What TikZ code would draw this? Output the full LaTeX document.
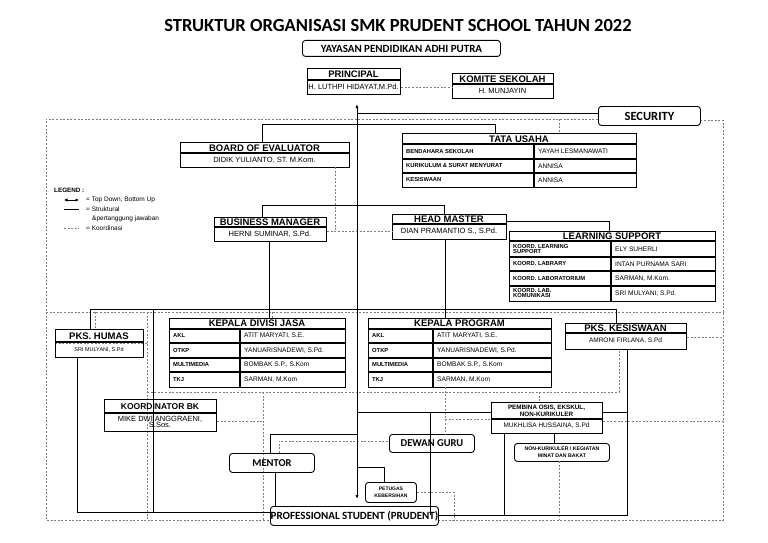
\documentclass[tikz,border=0pt]{standalone}
\usepackage{fontspec}
\setmainfont{Liberation Sans}
\newfontfamily\carfont{Carlito}
\usetikzlibrary{arrows.meta}
\begin{document}
\begin{tikzpicture}[x=1pt,y=-1pt,
  hd/.style={font=\bfseries\fontsize{9.5}{10}\selectfont,inner sep=0,align=center},
  bd/.style={font=\fontsize{7.5}{8}\selectfont,inner sep=0},
  cl/.style={font=\bfseries\fontsize{5.8}{6}\selectfont,inner sep=0,anchor=west,align=left},
  cr/.style={font=\fontsize{6.6}{7}\selectfont,inner sep=0,anchor=west},
  bx/.style={line width=1.1pt},
  ln/.style={line width=0.9pt},
  dsh/.style={line width=0.8pt,gray,dash pattern=on 2pt off 1.6pt},
  rbox/.style={draw,line width=0.9pt,rounded corners=3pt,inner sep=0,anchor=north west},
  lgt/.style={font=\fontsize{6.5}{7}\selectfont,anchor=west,inner sep=0},
  cb/.style={font=\carfont\bfseries\fontsize{10.5}{11}\selectfont}]
\useasboundingbox (0,0) rectangle (768,543);
\fill[white] (0,0) rectangle (768,543);
\newcommand\obox[8]{%
 \pgfmathsetmacro\ow{#4-#2}\pgfmathsetmacro\oh{#6-#3}%
 \node[draw,bx,inner sep=0,minimum width=\ow pt,minimum height=\oh pt,anchor=north west] (#1) at (#2,#3) {};
 \draw[bx] (#2,#5) -- (#4,#5);
 \node[hd] at ({(#2+#4)/2},{(#3+#5)/2+0.5}) {#7};
 \node[bd,align=center] at ({(#2+#4)/2},{(#5+#6)/2}) {#8};}
\newcommand\trow[7]{%
 \draw[bx] (#1,#5) -- (#3,#5);
 \node[cl] at ({#1+4},{(#4+#5)/2}) {#6};
 \node[cr] at ({#2+4},{(#4+#5)/2}) {#7};}
% title
\node[font=\carfont\bfseries\fontsize{18.5}{20}\selectfont] (title) at (398,26) {STRUKTUR ORGANISASI SMK PRUDENT SCHOOL TAHUN 2022};
\node[rbox,minimum width=198pt,minimum height=16pt,font=\carfont\bfseries\fontsize{11}{11}\selectfont] (yay) at (302,40) {YAYASAN PENDIDIKAN ADHI PUTRA};
% big dashed frames
\draw[dsh] (598,119) -- (46,119) -- (46,520) -- (270,520);
\draw[dsh] (438,520) -- (723,520) -- (723,120) -- (700,120);
\draw[dsh] (46,312) -- (723,312);
\draw[dsh] (147,312) -- (147,520);
\draw[dsh] (147,392) -- (619,392) -- (619,349);
\draw[dsh] (95,312) -- (95,330);
\draw[dsh] (55,343) -- (147,343);
\draw[dsh] (263,392) -- (263,520);
\draw[dsh] (272,312) -- (272,318);
% boxes
\obox{pr}{307}{68}{400}{80}{94}{PRINCIPAL}{H. LUTHPI HIDAYAT,M.Pd.}
\obox{ks}{452}{73}{553}{84}{98}{KOMITE SEKOLAH}{H. MUNJAYIN}
\node[rbox,minimum width=102pt,minimum height=19pt,font=\carfont\bfseries\fontsize{12.5}{13}\selectfont] (sec) at (598,106) {SECURITY};
\obox{be}{180}{142}{349}{153}{167}{BOARD OF EVALUATOR}{DIDIK YULIANTO, ST. M.Kom.}
% tata usaha
\node[draw,bx,inner sep=0,minimum width=234pt,minimum height=54pt,anchor=north west] (tu) at (402,133) {};
\draw[bx] (402,144) -- (636,144);
\node[hd] at (519,139) {TATA USAHA};
\draw[bx] (534,144) -- (534,187);
\trow{402}{534}{636}{144}{159}{BENDAHARA SEKOLAH}{YAYAH LESMANAWATI}
\trow{402}{534}{636}{159}{173}{KURIKULUM \& SURAT MENYURAT}{ANNISA}
\node[cl] at (406,180) {KESISWAAN};
\node[cr] at (538,180) {ANNISA};
\obox{bm}{214}{217}{326}{227}{241}{BUSINESS MANAGER}{HERNI SUMINAR, S.Pd.}
\obox{hm}{392}{214}{506}{224}{239}{HEAD MASTER}{DIAN PRAMANTIO S., S.Pd.}
% learning support
\node[draw,bx,inner sep=0,minimum width=206pt,minimum height=70pt,anchor=north west] (ls) at (509,231) {};
\draw[bx] (509,241) -- (715,241);
\node[hd] at (612,236.5) {LEARNING SUPPORT};
\draw[bx] (611,241) -- (611,301);
\trow{509}{611}{715}{241}{257}{KOORD. LEARNING\\[-1pt]SUPPORT}{ELY SUHERLI}
\trow{509}{611}{715}{257}{271}{KOORD. LABRARY}{INTAN PURNAMA SARI}
\trow{509}{611}{715}{271}{286}{KOORD. LABORATORIUM}{SARMAN, M.Kom.}
\node[cl] at (513,293.5) {KOORD. LAB.\\[-1pt]KOMUNIKASI};
\node[cr] at (615,293.5) {SRI MULYANI, S.Pd.};
% legend
\node[font=\bfseries\fontsize{6.3}{7}\selectfont,anchor=west,inner sep=0] (lg) at (54,190) {LEGEND :};
\draw[ln,{Latex[length=3.5pt,width=3.5pt]}-{Latex[length=3.5pt,width=3.5pt]}] (64,200) -- (79,200);
\node[lgt] (l1) at (86,200) {= Top Down, Bottom Up};
\draw[ln] (64,209) -- (79,209);
\node[lgt] (l2) at (86,209) {= Struktural};
\node[lgt] (l3) at (92,219) {\&pertanggung jawaban};
\draw[dsh] (64,228) -- (79,228);
\node[lgt] (l4) at (86,228) {= Koordinasi};
% middle row
\obox{ph}{55}{329}{143}{342}{357}{PKS. HUMAS}{\fontsize{5.5}{6}\selectfont SRI MULYANI, S.Pd}
% kepala divisi jasa
\node[draw,bx,inner sep=0,minimum width=176pt,minimum height=69pt,anchor=north west] (kdj) at (169,318) {};
\draw[bx] (169,329) -- (345,329);
\node[hd] at (257,323.5) {KEPALA DIVISI JASA};
\draw[bx] (240,329) -- (240,387);
\trow{169}{240}{345}{329}{343}{AKL}{ATIT MARYATI, S.E.}
\trow{169}{240}{345}{343}{358}{OTKP}{YANUARISNADEWI, S.Pd.}
\trow{169}{240}{345}{358}{372}{MULTIMEDIA}{BOMBAK S.P., S.Kom}
\node[cl] at (173,379.5) {TKJ};
\node[cr] at (244,379.5) {SARMAN, M.Kom};
% kepala program
\node[draw,bx,inner sep=0,minimum width=183pt,minimum height=69pt,anchor=north west] (kp) at (368,318) {};
\draw[bx] (368,329) -- (551,329);
\node[hd] at (459.5,323.5) {KEPALA PROGRAM};
\draw[bx] (433,329) -- (433,387);
\trow{368}{433}{551}{329}{343}{AKL}{ATIT MARYATI, S.E.}
\trow{368}{433}{551}{343}{358}{OTKP}{YANUARISNADEWI, S.Pd.}
\trow{368}{433}{551}{358}{372}{MULTIMEDIA}{BOMBAK S.P., S.Kom}
\node[cl] at (372,379.5) {TKJ};
\node[cr] at (437,379.5) {SARMAN, M.Kom};
\obox{pk}{565}{323}{686}{333}{349}{PKS. KESISWAAN}{\fontsize{6.5}{7}\selectfont AMRONI FIRLANA, S.Pd}
\obox{bk}{104}{399}{216}{413}{431}{\fontsize{8.5}{9}\selectfont KOORDINATOR BK}{MIKE DWI ANGGRAENI,\\[-1.5pt]S.Sos.}
% pembina
\node[draw,bx,inner sep=0,minimum width=111pt,minimum height=31pt,anchor=north west] (pb) at (491,402) {};
\draw[bx] (491,419) -- (602,419);
\node[inner sep=0,align=center,font=\bfseries\fontsize{6.3}{7}\selectfont] (pbh) at (546.5,410.5) {PEMBINA OSIS, EKSKUL,\\NON-KURIKULER};
\node[inner sep=0,font=\fontsize{6.5}{7}\selectfont] (pbn) at (546.5,426) {MUKHLISA HUSSAINA, S.Pd};
% rounded boxes bottom
\node[rbox,minimum width=85pt,minimum height=19pt,cb] (mt) at (229,453) {MENTOR};
\node[rbox,minimum width=85pt,minimum height=18pt,cb] (dg) at (389,434) {DEWAN GURU};
\node[rbox,minimum width=95pt,minimum height=18pt,align=center,font=\bfseries\fontsize{5.2}{7}\selectfont] (nk) at (514,443) {NON-KURIKULER / KEGIATAN\\MINAT DAN BAKAT};
\node[rbox,minimum width=51pt,minimum height=20pt,align=center,font=\bfseries\fontsize{5}{6.5}\selectfont] (pt) at (365,482) {PETUGAS\\KEBERSIHAN};
\node[rbox,minimum width=168pt,minimum height=19pt,font=\carfont\bfseries\fontsize{11}{11}\selectfont] (ps) at (270,506) {PROFESSIONAL STUDENT (PRUDENT)};
% dashed coordination connectors
\draw[dsh] (pr.east |- 0,87) -- (ks.west |- 0,87);
\draw[dsh] (559,119) -- (559,133);
\draw[dsh] (335,167) -- (335,231);
\draw[dsh] (bm.east |- 0,231) -- (hm.west |- 0,231);
\draw[dsh] (pk.east |- 0,337) -- (723,337);
\draw[dsh] (bk.east |- 0,421) -- (263,421);
\draw[dsh] (445,387) -- (445,434);
\draw[dsh] (445,419) -- (pb.west |- 0,419);
\draw[dsh] (539,392) -- (539,402);
\draw[dsh] (pb.east |- 0,421) -- (723,421);
\draw[dsh] (559,461) -- (559,520);
\draw[dsh] (279,453) -- (279,441) -- (dg.west |- 0,441);
\draw[dsh] (pt.east |- 0,492) -- (454,492) -- (454,520);
% structural connectors
\draw[ln,{Latex[length=4pt,width=3pt]}-{Latex[length=4pt,width=3pt]}] (357,104) -- (357,499);
\draw[ln] (357,113) -- (sec.west |- 0,113);
\draw[ln] (262,142) -- (262,124) -- (495,124) -- (495,133);
\draw[ln] (262,217) -- (262,205) -- (444,205) -- (444,214);
\draw[ln] (hm.east |- 0,221) -- (609,221) -- (609,231);
\draw[ln] (269,241) -- (269,318);
\draw[ln] (445,239) -- (445,318);
\draw[ln] (90,329) -- (90,309) -- (616,309) -- (616,323);
\draw[ln] (77,357) -- (77,512) -- (ps.west |- 0,512);
\draw[ln] (153,309) -- (153,512);
\draw[ln] (357,434) -- (270,434) -- (270,453);
\draw[ln] (275,472) -- (275,506);
\draw[ln] (357,412) -- (pb.west |- 0,412);
\draw[ln] (pb.east |- 0,412) -- (627,412);
\draw[ln] (627,349) -- (627,515) -- (ps.east |- 0,515);
\draw[ln] (430,412) -- (430,515);
\draw[ln] (504,433) -- (504,515);
\draw[ln] (554,433) -- (554,443);
\draw[ln] (357,467) -- (384,467) -- (384,482);
\end{tikzpicture}
\end{document}
